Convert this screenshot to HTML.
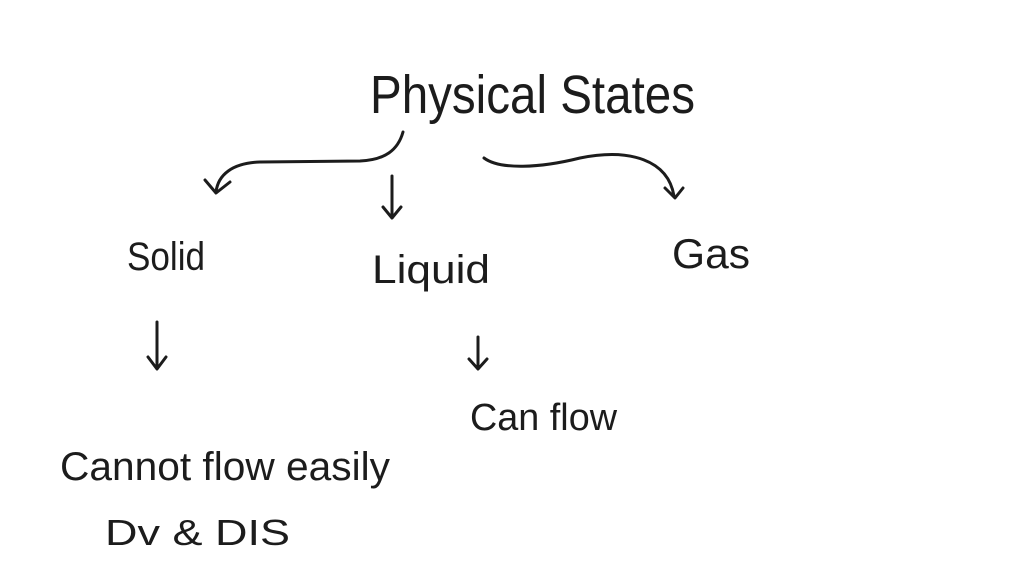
<!DOCTYPE html>
<html><head><meta charset="utf-8"><style>
html,body{margin:0;padding:0;background:#fff;}
svg{display:block}
text{font-family:"Liberation Sans",sans-serif;fill:#1c1c1c;font-weight:300}
</style></head><body>
<svg width="1024" height="576" viewBox="0 0 1024 576" xmlns="http://www.w3.org/2000/svg">
<rect width="1024" height="576" fill="#fff"/>
<g fill="none" stroke="#1c1c1c" stroke-width="3" stroke-linecap="round" stroke-linejoin="round">
<path d="M403 132 C398 150 385 160 360 161 L260 162 C232 163 218 175 216 192"/>
<path d="M205 180 L216 193 L230 182"/>
<path d="M392 176 L392 217"/>
<path d="M383 207 L392 218 L401 207"/>
<path d="M484 158 C500 170 540 168 580 158 C630 148 668 160 674 196"/>
<path d="M665 188 L675 198 L683 188"/>
<path d="M157 322 L157 368"/>
<path d="M148 357 L157 369 L166 357"/>
<path d="M478 337 L478 368"/>
<path d="M469 359 L478 369 L487 359"/>
</g>
<text x="370" y="113" font-size="54" textLength="325" lengthAdjust="spacingAndGlyphs">Physical States</text>
<text x="127" y="270" font-size="40" textLength="78" lengthAdjust="spacingAndGlyphs">Solid</text>
<text x="372" y="283" font-size="40" textLength="118" lengthAdjust="spacingAndGlyphs">Liquid</text>
<text x="672" y="268" font-size="42" textLength="78" lengthAdjust="spacingAndGlyphs">Gas</text>
<text x="470" y="430" font-size="38" textLength="147" lengthAdjust="spacingAndGlyphs">Can flow</text>
<text x="60" y="480" font-size="40" textLength="330" lengthAdjust="spacingAndGlyphs">Cannot flow easily</text>
<text x="105" y="545" font-size="36" textLength="185" lengthAdjust="spacingAndGlyphs">Dv &amp; DIS</text>
</svg>
</body></html>
